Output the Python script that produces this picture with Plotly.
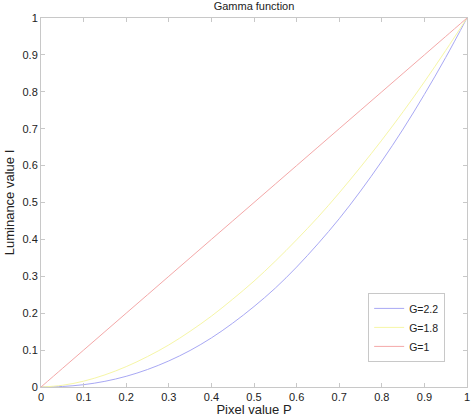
import plotly.graph_objects as go

# Pixel value P (x axis) and luminance readings for each gamma curve
pixel = [0.0, 0.05, 0.1, 0.15, 0.2, 0.25, 0.3, 0.35, 0.4, 0.45, 0.5,
         0.55, 0.6, 0.65, 0.7, 0.75, 0.8, 0.85, 0.9, 0.95, 1.0]
lum_g22 = [0.0, 0.0014, 0.0063, 0.0154, 0.029, 0.0474, 0.0707, 0.099, 0.133, 0.173, 0.218,
           0.268, 0.325, 0.388, 0.456, 0.531, 0.612, 0.699, 0.793, 0.893, 1.0]
lum_g18 = [0.0, 0.0046, 0.0158, 0.0329, 0.0552, 0.0825, 0.114, 0.151, 0.192, 0.238, 0.287,
           0.341, 0.399, 0.46, 0.526, 0.596, 0.669, 0.746, 0.827, 0.912, 1.0]
lum_g1 = [0.0, 0.05, 0.1, 0.15, 0.2, 0.25, 0.3, 0.35, 0.4, 0.45, 0.5,
          0.55, 0.6, 0.65, 0.7, 0.75, 0.8, 0.85, 0.9, 0.95, 1.0]

series = [
    ("G=2.2", lum_g22, "#a8a8f4"),
    ("G=1.8", lum_g18, "#f6f6a6"),
    ("G=1", lum_g1, "#f4a8a8"),
]

tick_vals = [0, 0.1, 0.2, 0.3, 0.4, 0.5, 0.6, 0.7, 0.8, 0.9, 1]
tick_text = ["0", "0.1", "0.2", "0.3", "0.4", "0.5", "0.6", "0.7", "0.8", "0.9", "1"]

fig = go.Figure()
for name, ys, color in series:
    fig.add_trace(go.Scatter(
        x=pixel, y=ys, mode="lines", name=name,
        line=dict(color=color, width=1, shape="spline"),
    ))

axis_style = dict(
    range=[0, 1], tickvals=tick_vals, ticktext=tick_text,
    ticks="inside", ticklen=4, tickcolor="#c8c8c8",
    showline=True, linecolor="#c8c8c8", linewidth=1, mirror="ticks",
    showgrid=False, zeroline=False, automargin=False,
    tickfont=dict(size=11, color="#222222"),
)

fig.update_layout(
    width=474, height=417,
    margin=dict(l=41, r=7, t=18, b=30),
    paper_bgcolor="white", plot_bgcolor="white",
    font=dict(family="Liberation Sans, Arial, sans-serif", size=11, color="#222222"),
    title=dict(text="Gamma function", x=0.5, xref="paper", y=0.985, yanchor="middle",
               font=dict(size=11)),
    xaxis=dict(axis_style, title=dict(text="Pixel value P", standoff=0)),
    yaxis=dict(axis_style, title=dict(text="Luminance value I", standoff=4)),
    legend=dict(x=0.768, y=0.255, xanchor="left", yanchor="top",
                bgcolor="white", bordercolor="#c8c8c8", borderwidth=1,
                font=dict(size=10.5), tracegroupgap=0, itemwidth=30),
    showlegend=True,
)

# drop the browser's default 8px body margin so the figure sits at the page corner
fig.write_html(
    "out.html",
    config={"displayModeBar": False},
    post_script="document.body.style.margin='0';",
)
